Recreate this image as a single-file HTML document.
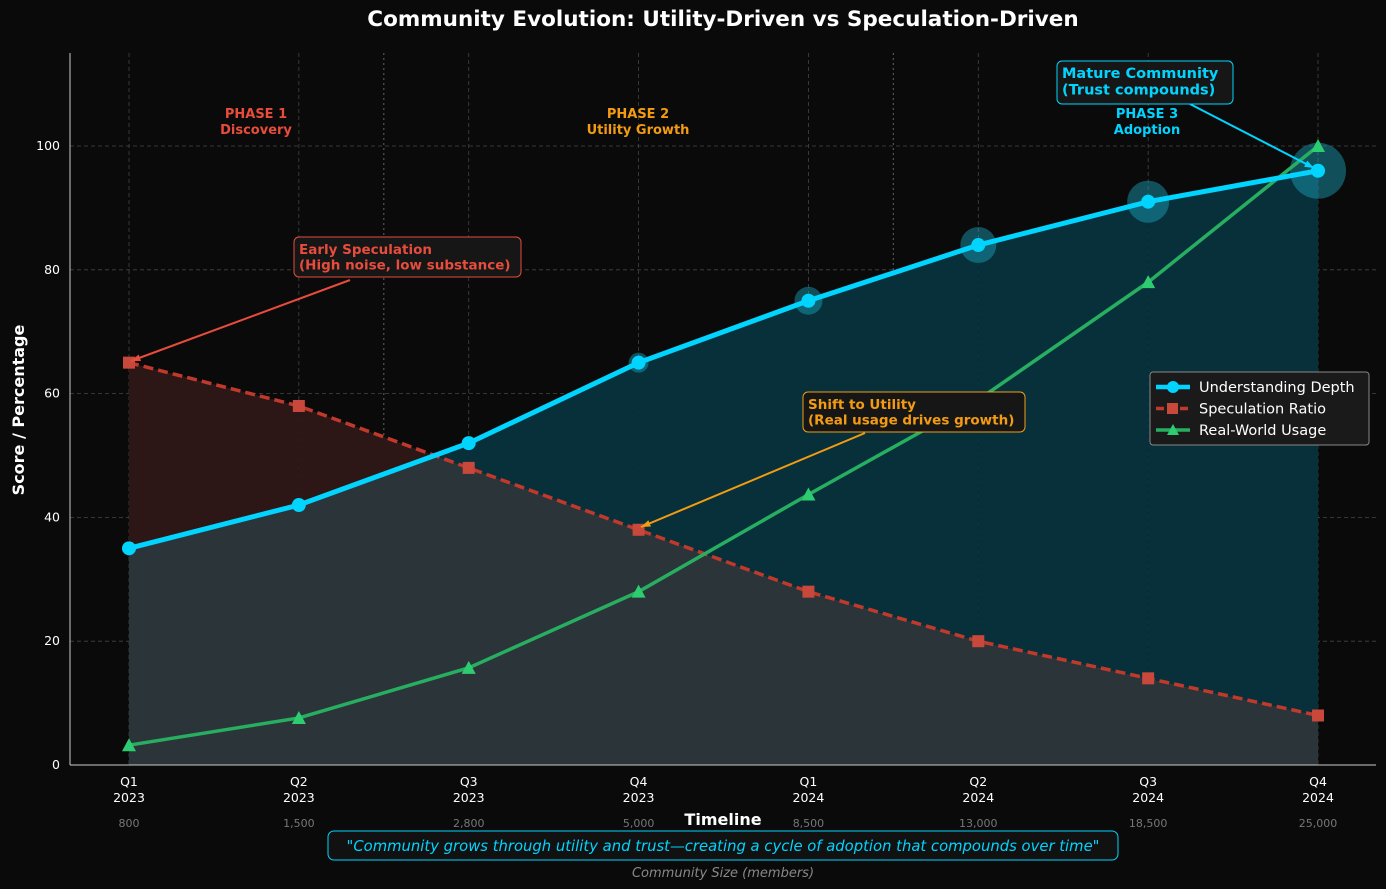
<!DOCTYPE html>
<html><head><meta charset="utf-8"><style>
body{margin:0;background:#0a0a0a;font-family:"DejaVu Sans","Liberation Sans",sans-serif}
svg{display:block}
text{font-family:"DejaVu Sans","Liberation Sans",sans-serif}
</style></head><body>
<svg id="c" width="1386" height="889" xmlns="http://www.w3.org/2000/svg">
<rect width="1386" height="889" fill="#0a0a0a"/>
<text x="723" y="26" text-anchor="middle" font-size="21.5" font-weight="bold" fill="#ffffff">Community Evolution: Utility-Driven vs Speculation-Driven</text>
<defs><clipPath id="specClip"><polygon id="specPoly" points=""/></clipPath></defs>
<g id="g"></g>
</svg>
<script>
const quarters=["Q1","Q2","Q3","Q4","Q1","Q2","Q3","Q4"];
const years=["2023","2023","2023","2023","2024","2024","2024","2024"];
const sizes=["800","1,500","2,800","5,000","8,500","13,000","18,500","25,000"];
const understanding=[35,42,52,65,75,84,91,96];
const speculation=[65,58,48,38,28,20,14,8];
const usage=[3.2,7.6,15.7,28,43.7,59,78,100];
const bubble=[0,0,0,10,14,18,21,28];
const yTicks=[0,20,40,60,80,100];

const NS="http://www.w3.org/2000/svg";
const g=document.getElementById('g');
const X=i=>129+i*169.86;
const Y=v=>765-v*6.19;
function el(t,a,p){const e=document.createElementNS(NS,t);for(const k in a)e.setAttribute(k,a[k]);(p||g).appendChild(e);return e;}

yTicks.forEach(v=>{if(v>0){const l=el('line',{x1:70,x2:1376,y1:Y(v),y2:Y(v),stroke:'#444',"stroke-dasharray":'4,3',"stroke-width":0.8});

}
const t=el('text',{x:60,y:Y(v)+4,"text-anchor":'end',"font-size":12.5,fill:'#fff'});t.textContent=v;

});
quarters.forEach((q,i)=>{const l=el('line',{x1:X(i),x2:X(i),y1:53,y2:765,stroke:'#444',"stroke-dasharray":'4,3',"stroke-width":0.8});


const t=el('text',{x:X(i),y:786,"text-anchor":'middle',"font-size":12.5,fill:'#fff'});t.innerHTML=`<tspan x="${X(i)}">${q}</tspan><tspan x="${X(i)}" dy="16">${years[i]}</tspan>`;


const s=el('text',{x:X(i),y:827,"text-anchor":'middle',"font-size":11,fill:'#777'});s.textContent=sizes[i];

});
[1.5,4.5].forEach(p=>{const l=el('line',{x1:X(p),x2:X(p),y1:53,y2:765,stroke:'#555',"stroke-dasharray":'2,3',"stroke-width":1.2});

});

function fillBetween(lo,hi,cond,color,op,name){
 for(let i=0;i<7;i++){
  const d0=hi(i)-lo(i),d1=hi(i+1)-lo(i+1);
  let pts=null;
  if(cond(d0)&&cond(d1))pts=[[i,hi(i)],[i+1,hi(i+1)],[i+1,lo(i+1)],[i,lo(i)]];
  else if(cond(d0)||cond(d1)){const t=d0/(d0-d1);const xc=i+t,yc=lo(i)+(lo(i+1)-lo(i))*t;
   pts=cond(d0)?[[i,hi(i)],[xc,yc],[i,lo(i)]]:[[xc,yc],[i+1,hi(i+1)],[i+1,lo(i+1)]];}
  if(pts){const p=el('polygon',{points:pts.map(q=>X(q[0])+','+Y(q[1])).join(' '),fill:color,"fill-opacity":op});
  
  }
 }
}
const U=i=>understanding[i],S=i=>speculation[i];
// base gray: under understanding clipped to under speculation
document.getElementById('specPoly').setAttribute('points',speculation.map((v,i)=>X(i)+','+Y(v)).join(' ')+` ${X(7)},${Y(0)} ${X(0)},${Y(0)}`);
const base=el('polygon',{points:understanding.map((v,i)=>X(i)+','+Y(v)).join(' ')+` ${X(7)},${Y(0)} ${X(0)},${Y(0)}`,fill:'#2b3439',"clip-path":'url(#specClip)'});


fillBetween(U,S,d=>d>0,'#2c1616',1,'speculation-excess-area');
fillBetween(S,U,d=>d>0,'#07303a',1,'utility-excess-area');

el('line',{x1:70,x2:70,y1:53,y2:765,stroke:'#ccc'});el('line',{x1:70,x2:1376,y1:765,y2:765,stroke:'#ccc'});

[[256,'PHASE 1','Discovery','#e74c3c'],[638,'PHASE 2','Utility Growth','#f39c12'],[1147,'PHASE 3','Adoption','#00d4ff']].forEach(p=>{
 const t=el('text',{x:p[0],y:118,"text-anchor":'middle',"font-size":13,"font-weight":'bold',fill:p[3]});
 t.innerHTML=`<tspan x="${p[0]}">${p[1]}</tspan><tspan x="${p[0]}" dy="16">${p[2]}</tspan>`;
 
 });

function line(vals,color,w,dash,name){const p=el('polyline',{points:vals.map((v,i)=>X(i)+','+Y(v)).join(' '),fill:'none',stroke:color,"stroke-width":w,"stroke-dasharray":dash||'none'});

}
bubble.forEach((r,i)=>{if(r){const c=el('circle',{cx:X(i),cy:Y(understanding[i]),r:r,fill:'#1aa3bf',"fill-opacity":0.45});

}});
line(speculation,'#c0392b',3.5,'10,5','speculation-line');
speculation.forEach((v,i)=>{const r=el('rect',{x:X(i)-6,y:Y(v)-6,width:12,height:12,fill:'#c9483c'});

});
line(usage,'#27ae60',3.5,null,'usage-line');
usage.forEach((v,i)=>{const x=X(i),y=Y(v);const p=el('polygon',{points:`${x},${y-7} ${x-7},${y+6} ${x+7},${y+6}`,fill:'#2ecc71'});

});
line(understanding,'#00d4ff',5,null,'understanding-line');
understanding.forEach((v,i)=>{const c=el('circle',{cx:X(i),cy:Y(v),r:7,fill:'#00d4ff'});

});

function ann(x,y,w,h,color,l1,l2,ax1,ay1,ax2,ay2,name,fs){
 el('line',{x1:ax1,y1:ay1,x2:ax2,y2:ay2,stroke:color,"stroke-width":2});
 const ang=Math.atan2(ay2-ay1,ax2-ax1);
 el('polygon',{points:`${ax2},${ay2} ${ax2-10*Math.cos(ang-0.35)},${ay2-10*Math.sin(ang-0.35)} ${ax2-10*Math.cos(ang+0.35)},${ay2-10*Math.sin(ang+0.35)}`,fill:color});
 const r=el('rect',{x:x,y:y,width:w,height:h,rx:5,fill:'#161616',stroke:color,"stroke-width":1});
 
 
 const t=el('text',{x:x+5,y:y+17,"font-size":fs,"font-weight":'bold',fill:color});
 t.innerHTML=`<tspan x="${x+5}">${l1}</tspan><tspan x="${x+5}" dy="${fs+2}">${l2}</tspan>`;
}
ann(294,237,227,40,'#e74c3c','Early Speculation','(High noise, low substance)',350,280,131,361,'early-speculation-annotation',13.5);
ann(803,392,222,40,'#f39c12','Shift to Utility','(Real usage drives growth)',865,433,641,527,'shift-utility-annotation',13.5);
ann(1057,61,176,43,'#00d4ff','Mature Community','(Trust compounds)',1190,104,1314,168,'mature-community-annotation',14.5);

const lg=el('g',{});
el('rect',{x:1150,y:372,width:219,height:73,rx:3,fill:'#1a1a1a',stroke:'#888'},lg);
[['Understanding Depth','#00d4ff',null,'c'],['Speculation Ratio','#c0392b','8,4','s'],['Real-World Usage','#27ae60',null,'t']].forEach((e,k)=>{
 const y=387+k*21.5;
 el('line',{x1:1156,x2:1190,y1:y,y2:y,stroke:e[1],"stroke-width":e[3]=='c'?4.5:3.5,"stroke-dasharray":e[2]||'none'},lg);
 if(e[3]=='c')el('circle',{cx:1173,cy:y,r:6,fill:e[1]},lg);
 else if(e[3]=='s')el('rect',{x:1167,y:y-5.5,width:11,height:11,fill:'#c9483c'},lg);
 else el('polygon',{points:`1173,${y-6} 1167,${y+5} 1179,${y+5}`,fill:'#2ecc71'},lg);
 const t=el('text',{x:1199,y:y+5,"font-size":14.5,fill:'#fff'},lg);t.textContent=e[0];
 
 
});

let t=el('text',{x:723,y:825,"text-anchor":'middle',"font-size":16,"font-weight":'bold',fill:'#fff'});t.textContent='Timeline';

t=el('text',{x:24,y:410,"text-anchor":'middle',"font-size":16,"font-weight":'bold',fill:'#fff',transform:'rotate(-90 24 410)'});t.textContent='Score / Percentage';

el('rect',{x:328,y:831,width:790,height:29,rx:6,fill:'#111',stroke:'#00d4ff'});
t=el('text',{x:723,y:851,"text-anchor":'middle',"font-size":14.8,"font-style":'italic',fill:'#00d4ff'});t.textContent='"Community grows through utility and trust\u2014creating a cycle of adoption that compounds over time"';

t=el('text',{x:723,y:877,"text-anchor":'middle',"font-size":13,"font-style":'italic',fill:'#888'});t.textContent='Community Size (members)';

</script>
</body></html>
